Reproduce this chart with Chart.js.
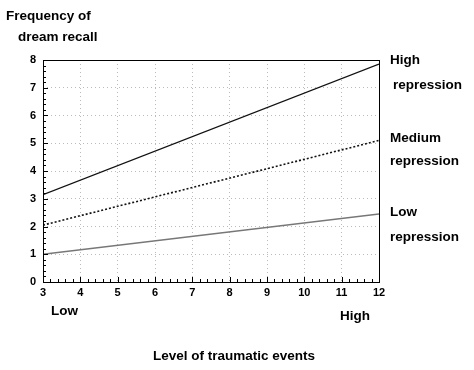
<!DOCTYPE html>
<html>
<head>
<meta charset="utf-8">
<script src="https://cdn.jsdelivr.net/npm/chart.js@4"></script>
<style>
  html, body { margin: 0; padding: 0; background: #fff; }
  #wrap { width: 474px; height: 370px; }
</style>
</head>
<body>
<div id="wrap"><canvas id="chart" width="474" height="370"></canvas></div>
<script>
// values
const traumaLevels = [3, 12];
const highRepression = [3.15, 7.85];
const mediumRepression = [2.05, 5.1];
const lowRepression = [1.0, 2.45];
const xTicks = [3, 4, 5, 6, 7, 8, 9, 10, 11, 12];
const yTicks = [0, 1, 2, 3, 4, 5, 6, 7, 8];

const FONT = '"Liberation Sans", Arial, sans-serif';

function pts(ys) {
  return traumaLevels.map((x, i) => ({ x: x, y: ys[i] }));
}

// frame, inward ticks and free text
const decor = {
  id: 'decor',
  afterDraw(chart) {
    const ctx = chart.ctx;
    const a = chart.chartArea;
    const xs = chart.scales.x, ys = chart.scales.y;
    ctx.save();
    ctx.strokeStyle = '#000';
    ctx.lineWidth = 1;
    ctx.strokeRect(a.left + 0.5, a.top + 0.5, a.right - a.left, a.bottom - a.top);
    ctx.beginPath();
    for (let v = 3; v <= 12.001; v += 0.2) {
      const px = Math.round(xs.getPixelForValue(v)) + 0.5;
      const len = Math.abs(v - Math.round(v)) < 0.01 ? 5 : 3;
      ctx.moveTo(px, a.bottom); ctx.lineTo(px, a.bottom - len);
    }
    for (let v = 0; v <= 8.001; v += 0.2) {
      const py = Math.round(ys.getPixelForValue(v)) + 0.5;
      const len = Math.abs(v - Math.round(v)) < 0.01 ? 5 : 3;
      ctx.moveTo(a.left, py); ctx.lineTo(a.left + len, py);
    }
    ctx.stroke();

    ctx.fillStyle = '#000';
    ctx.font = 'bold 13.5px ' + FONT;
    ctx.textBaseline = 'middle';
    ctx.textAlign = 'left';
    ctx.fillText('Frequency of', 6, 16);
    ctx.fillText('dream recall', 18, 37);
    ctx.fillText('High', 390, 60);
    ctx.fillText('repression', 393, 85);
    ctx.fillText('Medium', 390, 138);
    ctx.fillText('repression', 390, 161);
    ctx.fillText('Low', 390, 212);
    ctx.fillText('repression', 390, 237);
    ctx.fillText('Low', 51, 311);
    ctx.fillText('High', 340, 316);
    ctx.textAlign = 'center';
    ctx.fillText('Level of traumatic events', 234, 356);
    ctx.restore();
  }
};

new Chart(document.getElementById('chart'), {
  type: 'line',
  data: {
    datasets: [
      { label: 'High repression', data: pts(highRepression), borderColor: '#111', borderWidth: 1.3, pointRadius: 0 },
      { label: 'Medium repression', data: pts(mediumRepression), borderColor: '#111', borderWidth: 1.6, borderDash: [2, 2], pointRadius: 0 },
      { label: 'Low repression', data: pts(lowRepression), borderColor: '#777', borderWidth: 1.3, pointRadius: 0 }
    ]
  },
  options: {
    responsive: false,
    animation: false,
    layout: { padding: { left: 0, right: 95, top: 60, bottom: 68 } },
    plugins: { legend: { display: false }, tooltip: { enabled: false } },
    scales: {
      x: {
        type: 'linear', min: 3, max: 12,
        afterFit(s) { s.height = 20; },
        afterBuildTicks(s) { s.ticks = xTicks.map(v => ({ value: v })); },
        grid: { color: '#bbb', lineWidth: 1, drawTicks: false },
        border: { display: false, dash: [1, 3] },
        ticks: { color: '#000', font: { family: FONT, size: 11, weight: 'bold' }, padding: 4, maxRotation: 0 }
      },
      y: {
        type: 'linear', min: 0, max: 8,
        afterFit(s) { s.width = 43; },
        afterBuildTicks(s) { s.ticks = yTicks.map(v => ({ value: v })); },
        grid: { color: '#bbb', lineWidth: 1, drawTicks: false },
        border: { display: false, dash: [1, 3] },
        ticks: { color: '#000', font: { family: FONT, size: 11, weight: 'bold' }, padding: 7 }
      }
    }
  },
  plugins: [decor]
});
</script>
</body>
</html>
